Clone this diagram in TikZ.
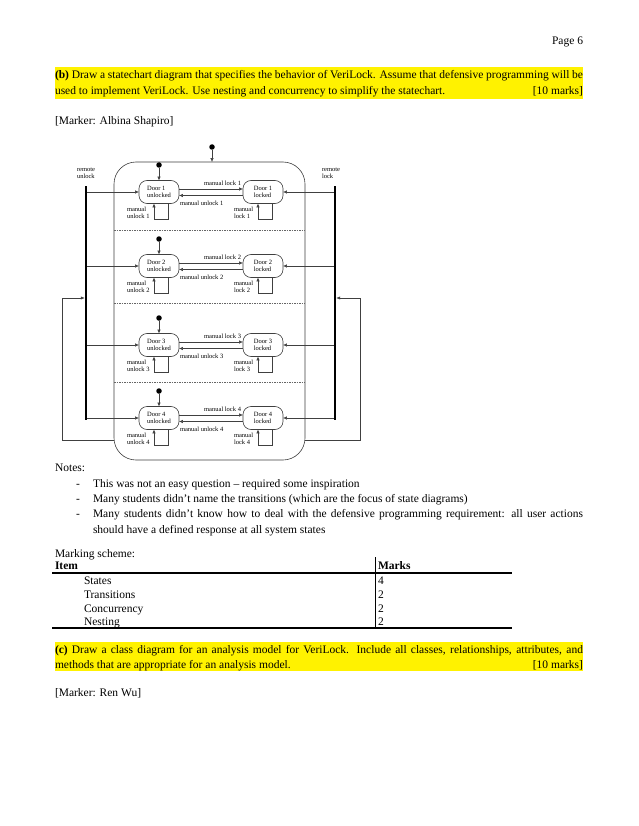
\documentclass[tikz,border=0pt]{standalone}
\usepackage{fontspec}
\setmainfont{Liberation Serif}
\usetikzlibrary{arrows.meta,calc}
\begin{document}
\begin{tikzpicture}[x=1pt,y=-1pt,
  every node/.style={inner sep=0pt, outer sep=0pt},
  body/.style={font=\fontsize{11.5}{15}\selectfont, anchor=base west},
  tiny/.style={font=\fontsize{6.5}{7.3}\selectfont, align=left},
  st/.style={draw=black!75, line width=0.6pt, rounded corners=8pt, minimum width=40pt, minimum height=23pt, tiny},
  ln/.style={draw=black!75, line width=0.5pt},
  arr/.style={ln, -{Latex[length=3.8pt,width=3.2pt]}},
  bar/.style={fill=black, minimum width=2.6pt, minimum height=234pt},
  init/.style={circle, fill=black, minimum size=5.5pt},
  dsep/.style={draw=black!60, dash pattern=on 1.5pt off 1pt, line width=0.5pt}
]
\useasboundingbox (0,0) rectangle (638,826);
\fill[white] (0,0) rectangle (638,826);

% header text
\node[body, anchor=base east] (page) at (583,45) {Page 6};
\fill[yellow] (55,67) rectangle (583,99);
\node[body] (b1) at (55,79) {\makebox[528pt][s]{\textbf{(b)} Draw a statechart diagram that specifies the behavior of VeriLock. Assume that defensive programming will be}};
\node[body] (b2) at (55,95) {\makebox[528pt][s]{used to implement VeriLock. Use nesting and concurrency to simplify the statechart.\hfill[10 marks]}};
\node[body] (m1) at (55,125) {[Marker: Albina Shapiro]};

% diagram
\node[draw=black!75, line width=0.6pt, rounded corners=22pt, minimum width=191pt, minimum height=298pt] (outer) at (209.5,311) {};
\node[init] (i0) at (212,147) {};
\draw[arr] (i0) -- (i0 |- outer.north);

\coordinate (s1) at (0,230);
\coordinate (s2) at (0,303);
\coordinate (s3) at (0,382);
\draw[dsep] (outer.west |- s1) -- (outer.east |- s1);
\draw[dsep] (outer.west |- s2) -- (outer.east |- s2);
\draw[dsep] (outer.west |- s3) -- (outer.east |- s3);

\node[bar] (ubar) at (86,303) {};
\node[bar] (rbar) at (335,303) {};
\node[tiny, anchor=west] (rut) at (77,173.5) {remote\\unlock};
\node[tiny, anchor=west] (rlt) at (322,173.5) {remote\\lock};

\coordinate (ll1) at (62,440);
\coordinate (ll2) at (62,298);
\coordinate (rl1) at (360,440);
\coordinate (rl2) at (360,298);
\draw[arr] (outer.west |- ll1) -- (ll1) -- (ll2) -- (ll2 -| ubar.west);
\draw[arr] (outer.east |- rl1) -- (rl1) -- (rl2) -- (rl2 -| rbar.east);

\foreach \i/\cy in {1/192,2/266,3/345,4/418}{
  \node[st] (d\i u) at (159,\cy) {Door \i\\unlocked};
  \node[st] (d\i l) at (263,\cy) {Door \i\\locked};
  \node[init] (i\i) at (159,\cy-27) {};
  \draw[arr] (i\i) -- (d\i u);
  \draw[arr] ([yshift=3pt]d\i u.east) -- ([yshift=3pt]d\i l.west);
  \draw[arr] ([yshift=-3.5pt]d\i l.west) -- ([yshift=-3.5pt]d\i u.east);
  \node[tiny, anchor=east] (lk\i) at ([xshift=-2pt,yshift=9pt]d\i l.west) {manual lock \i};
  \node[tiny, anchor=west] (ul\i) at ([xshift=1pt,yshift=-11pt]d\i u.east) {manual unlock \i};
  \draw[arr] ([xshift=9pt]d\i u.south) -- ++(0,16) -| ([xshift=-5pt]d\i u.south);
  \draw[arr] ([xshift=9pt]d\i l.south) -- ++(0,16) -| ([xshift=-5pt]d\i l.south);
  \node[tiny, anchor=west] (su\i) at ([xshift=-12pt,yshift=-9pt]d\i u.south west) {manual\\unlock \i};
  \node[tiny, anchor=west] (sl\i) at ([xshift=-9pt,yshift=-9pt]d\i l.south west) {manual\\lock \i};
  \draw[arr] (ubar.east |- d\i u.west) -- (d\i u.west);
  \draw[arr] (rbar.west |- d\i l.east) -- (d\i l.east);
}

% notes
\node[body] (n0) at (55,471) {Notes:};
\node[body] (nd1) at (76,487) {-};
\node[body] (nd2) at (76,502) {-};
\node[body] (nd3) at (76,517) {-};
\node[body] (n1) at (93,487) {This was not an easy question – required some inspiration};
\node[body] (n2) at (93,502) {Many students didn’t name the transitions (which are the focus of state diagrams)};
\node[body] (n3) at (93,517) {\makebox[490pt][s]{Many students didn’t know how to deal with the defensive programming requirement: all user actions}};
\node[body] (n4) at (93,533) {should have a defined response at all system states};

% marking scheme
\node[body] (ms) at (55,557) {Marking scheme:};
\node[body] (th1) at (55,569) {\textbf{Item}};
\node[body] (th2) at (378,569) {\textbf{Marks}};
\draw[line width=1.4pt] (52,573) -- (512,573);
\draw[line width=1.4pt] (52,628) -- (512,628);
\draw[line width=1pt] (375,557) -- (375,629);
\node[body] (r1) at (84,584) {States};
\node[body] (r2) at (84,598) {Transitions};
\node[body] (r3) at (84,612) {Concurrency};
\node[body] (r4) at (84,625) {Nesting};
\node[body] (v1) at (378,584) {4};
\node[body] (v2) at (378,598) {2};
\node[body] (v3) at (378,612) {2};
\node[body] (v4) at (378,625) {2};

% part c
\fill[yellow] (55,642) rectangle (583,671);
\node[body] (c1) at (55,653) {\makebox[528pt][s]{\textbf{(c)} Draw a class diagram for an analysis model for VeriLock. Include all classes, relationships, attributes, and}};
\node[body] (c2) at (55,668) {\makebox[528pt][s]{methods that are appropriate for an analysis model.\hfill[10 marks]}};
\node[body] (m2) at (55,696) {[Marker: Ren Wu]};
\end{tikzpicture}
\end{document}
